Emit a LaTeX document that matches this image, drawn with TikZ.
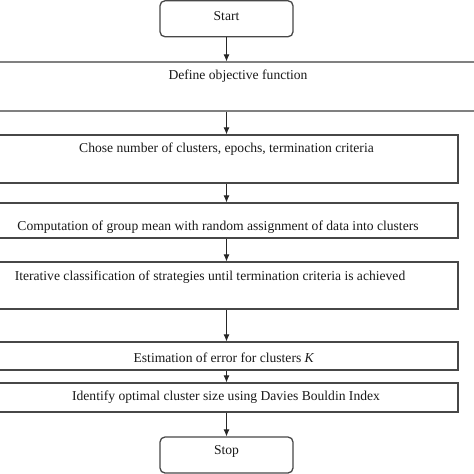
\documentclass[tikz,border=0pt]{standalone}
\usepackage{fontspec}
\setmainfont{Liberation Serif}
\usetikzlibrary{arrows.meta}
\begin{document}
\begin{tikzpicture}[x=1pt,y=-1pt,
  boxline/.style={draw=black!72, line width=1.3pt},
  term/.style={boxline, rounded corners=5pt, minimum width=133pt, minimum height=36pt, inner sep=0pt},
  stepbox/.style={boxline, minimum width=478pt, inner sep=0pt},
  lbl/.style={font=\fontsize{13.6}{15}\selectfont, inner sep=0pt, text=black!90},
  arr/.style={-{Latex[length=7pt,width=6pt]}, line width=0.8pt, draw=black!85}]
\useasboundingbox (0,0) rectangle (474,474);
\clip (0,0) rectangle (474,474);
% terminals
\node[term] (start) at (226.5,18.75) {};
\node[lbl] (tstart) at (226.5,16) {Start};
\node[term] (stop) at (226.5,455) {};
\node[lbl] (tstop) at (226.5,451.5) {Stop};
% process boxes
\node[stepbox, draw=black!50, minimum width=520pt, minimum height=49pt] (b1) at (237,86.5) {};
\node[lbl] (t1) at (238,76) {Define objective function};
\node[stepbox, minimum height=48pt] (b2) at (219,159) {};
\node[lbl] (t2) at (226.5,149) {Chose number of clusters, epochs, termination criteria};
\node[stepbox, minimum height=35pt] (b3) at (219,220.5) {};
\node[lbl] (t3) at (218,227) {Computation of group mean with random assignment of data into clusters};
\node[stepbox, minimum height=47pt] (b4) at (219,285.5) {};
\node[lbl] (t4) at (210,277) {Iterative classification of strategies until termination criteria is achieved};
\node[stepbox, minimum height=28pt] (b5) at (219,356) {};
\node[lbl] (t5) at (224,358) {Estimation of error for clusters \textit{K}};
\node[stepbox, minimum height=29pt] (b6) at (219,397.5) {};
\node[lbl] (t6) at (226,397) {Identify optimal cluster size using Davies Bouldin Index};
% connectors
\draw[arr] (start.south) -- (b1.north -| start.south);
\draw[arr] (b1.south -| start.south) -- (b2.north -| start.south);
\draw[arr] (b2.south -| start.south) -- (b3.north -| start.south);
\draw[arr] (b3.south -| start.south) -- (b4.north -| start.south);
\draw[arr] (b4.south -| start.south) -- (b5.north -| start.south);
\draw[arr] (b5.south -| start.south) -- (b6.north -| start.south);
\draw[arr] (b6.south -| start.south) -- (stop.north);
\end{tikzpicture}
\end{document}
